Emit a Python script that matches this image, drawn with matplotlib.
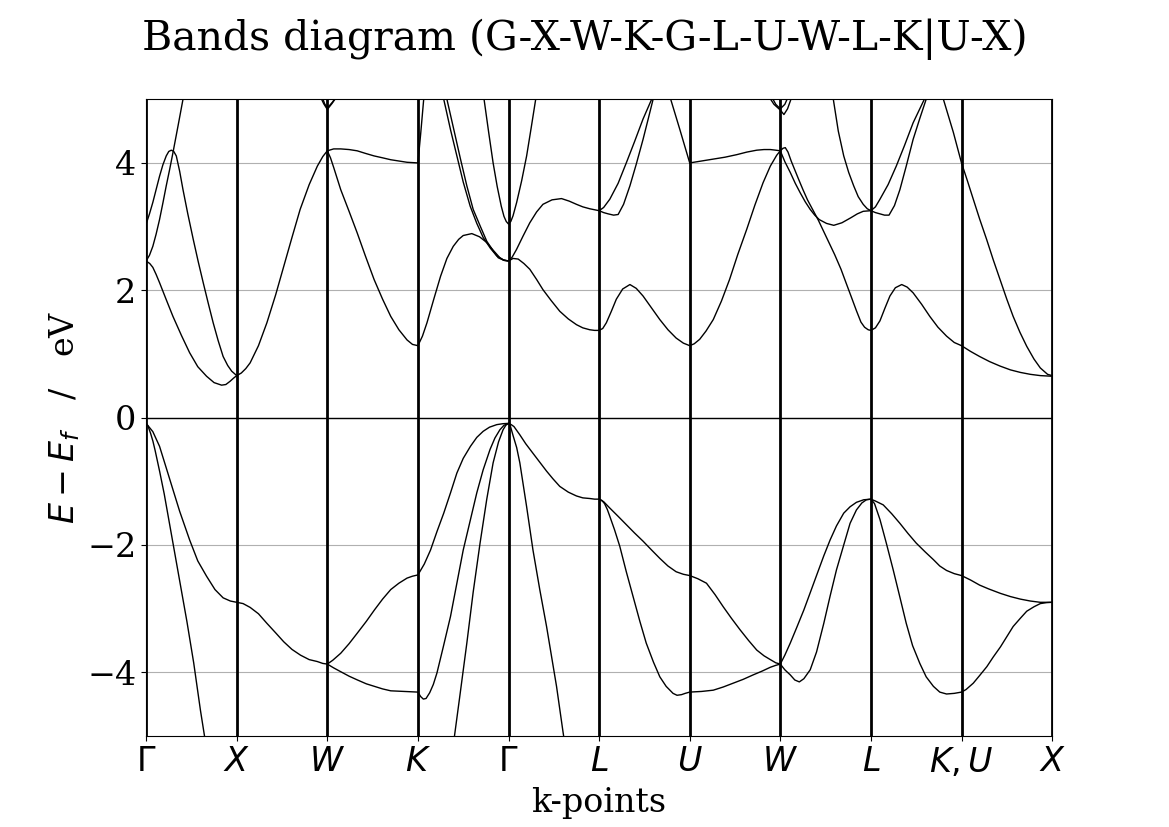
import matplotlib
matplotlib.use("Agg")
import matplotlib.pyplot as plt

plt.rcParams['font.family'] = ['DejaVu Serif']
plt.rcParams['mathtext.fontset'] = 'dejavusans'

# High-symmetry path
kpath_pos = [0, 1, 2, 3, 4, 5, 6, 7, 8, 9, 10]
kpath_labels = [r'$\Gamma$', r'$X$', r'$W$', r'$K$', r'$\Gamma$', r'$L$',
                r'$U$', r'$W$', r'$L$', r'$K,U$', r'$X$']
yticks = [-4, -2, 0, 2, 4]

# ---------------- valence bands (k, E in eV) ----------------
k_v1 = [0, 0.074, 0.148, 0.22, 0.296, 0.37, 0.48, 0.57, 0.667, 0.76, 0.85, 0.93, 1.0]
e_v1 = [-0.09, -0.22, -0.45, -0.78, -1.13, -1.47, -1.92, -2.25, -2.49, -2.70, -2.83, -2.88, -2.90]
k_v2 = [0, 0.02, 0.05, 0.075, 0.1, 0.15, 0.2, 0.25, 0.3, 0.375, 0.45, 0.525, 0.6, 0.7]
e_v2 = [-0.09, -0.13, -0.25, -0.37, -0.52, -0.85, -1.2, -1.6, -2.0, -2.6, -3.2, -3.85, -4.6, -5.5]
k_v3 = [1.0, 1.07, 1.148, 1.24, 1.333, 1.43, 1.519, 1.61, 1.704, 1.8, 1.889, 1.95, 2.0]
e_v3 = [-2.90, -2.92, -2.98, -3.08, -3.23, -3.38, -3.52, -3.64, -3.73, -3.80, -3.83, -3.86, -3.87]
k_v4 = [2, 2.06, 2.148, 2.24, 2.333, 2.43, 2.52, 2.61, 2.70, 2.79, 2.88, 2.94, 3.0]
e_v4 = [-3.87, -3.81, -3.70, -3.55, -3.38, -3.20, -3.02, -2.85, -2.70, -2.60, -2.52, -2.49, -2.47]
k_v5 = [2, 2.07, 2.148, 2.24, 2.333, 2.43, 2.52, 2.61, 2.70, 2.85, 3.0]
e_v5 = [-3.87, -3.93, -3.99, -4.06, -4.12, -4.18, -4.22, -4.26, -4.29, -4.30, -4.31]
k_v6 = [3, 3.07, 3.139, 3.21, 3.285, 3.36, 3.43, 3.5, 3.58, 3.65, 3.72, 3.79, 3.87, 3.94, 4.0]
e_v6 = [-2.47, -2.30, -2.08, -1.79, -1.50, -1.18, -0.87, -0.64, -0.45, -0.31, -0.215, -0.15, -0.11, -0.095, -0.09]
k_v7 = [3, 3.03, 3.06, 3.09, 3.13, 3.17, 3.21, 3.28, 3.36, 3.43, 3.50, 3.58, 3.65,
        3.72, 3.796, 3.85, 3.905, 3.95, 4.0]
e_v7 = [-4.31, -4.38, -4.42, -4.41, -4.32, -4.19, -4.01, -3.60, -3.12, -2.60, -2.08,
        -1.60, -1.18, -0.82, -0.50, -0.32, -0.19, -0.12, -0.09]
k_v8 = [3.38, 3.46, 3.54, 3.61, 3.686, 3.76, 3.83, 3.89, 3.94, 3.97, 4.0]
e_v8 = [-5.25, -4.40, -3.54, -2.74, -1.97, -1.28, -0.71, -0.38, -0.19, -0.12, -0.09]
k_v9 = [4, 4.03, 4.06, 4.125, 4.19, 4.27, 4.345, 4.42, 4.49, 4.566, 4.66, 4.75, 4.82, 4.897, 4.95, 5.0]
e_v9 = [-0.09, -0.11, -0.14, -0.27, -0.41, -0.56, -0.70, -0.84, -0.96, -1.08, -1.17, -1.23, -1.26, -1.27, -1.28, -1.28]
k_v10 = [4, 4.02, 4.05, 4.09, 4.125, 4.2, 4.27, 4.345, 4.42, 4.475, 4.53, 4.6, 4.65]
e_v10 = [-0.09, -0.13, -0.28, -0.47, -0.71, -1.4, -2.08, -2.70, -3.28, -3.75, -4.22, -4.92, -5.4]
k_v11 = [5, 5.05, 5.118, 5.21, 5.30, 5.39, 5.485, 5.58, 5.67, 5.76, 5.85, 5.93, 6.0]
e_v11 = [-1.28, -1.32, -1.42, -1.55, -1.68, -1.81, -1.94, -2.08, -2.21, -2.33, -2.42, -2.46, -2.48]
k_v12 = [5, 5.03, 5.06, 5.09, 5.118, 5.17, 5.228, 5.30, 5.375, 5.45, 5.52, 5.60, 5.67,
         5.74, 5.816, 5.86, 5.91, 5.95, 6.0]
e_v12 = [-1.28, -1.30, -1.35, -1.44, -1.55, -1.76, -2.02, -2.42, -2.81, -3.20, -3.54, -3.84, -4.07,
         -4.22, -4.33, -4.36, -4.35, -4.33, -4.31]
k_v13 = [6, 6.09, 6.185, 6.28, 6.37, 6.46, 6.555, 6.65, 6.74, 6.82, 6.89, 6.95, 7.0]
e_v13 = [-2.48, -2.53, -2.60, -2.78, -2.97, -3.15, -3.33, -3.50, -3.65, -3.74, -3.80, -3.85, -3.87]
k_v14 = [6, 6.13, 6.26, 6.37, 6.48, 6.59, 6.70, 6.80, 6.89, 6.95, 7.0]
e_v14 = [-4.31, -4.30, -4.28, -4.23, -4.17, -4.11, -4.04, -3.98, -3.92, -3.89, -3.87]
k_v15 = [7, 7.05, 7.11, 7.18, 7.26, 7.33, 7.41, 7.48, 7.55, 7.62, 7.70, 7.77, 7.84, 7.92, 8.0]
e_v15 = [-3.87, -3.73, -3.54, -3.30, -3.02, -2.75, -2.44, -2.17, -1.92, -1.70, -1.50, -1.40, -1.33, -1.29, -1.28]
k_v16 = [7, 7.05, 7.11, 7.16, 7.21, 7.26, 7.33, 7.40, 7.48, 7.55, 7.62, 7.70, 7.77, 7.84, 7.90, 7.95, 8.0]
e_v16 = [-3.87, -3.96, -4.04, -4.12, -4.15, -4.10, -3.96, -3.68, -3.23, -2.80, -2.39, -2.00, -1.66, -1.45, -1.34, -1.29, -1.28]
k_v17 = [8, 8.05, 8.136, 8.23, 8.32, 8.41, 8.50, 8.60, 8.69, 8.76, 8.835, 8.92, 9.0]
e_v17 = [-1.28, -1.31, -1.37, -1.51, -1.66, -1.82, -1.97, -2.11, -2.23, -2.33, -2.40, -2.45, -2.48]
k_v18 = [8, 8.04, 8.1, 8.17, 8.246, 8.32, 8.39, 8.46, 8.54, 8.61, 8.69, 8.76, 8.835, 8.92, 9.0]
e_v18 = [-1.28, -1.35, -1.60, -1.97, -2.39, -2.82, -3.23, -3.58, -3.86, -4.07, -4.22, -4.31, -4.34, -4.33, -4.31]
k_v19 = [9, 9.1, 9.2, 9.3, 9.43, 9.54, 9.65, 9.76, 9.87, 10]
e_v19 = [-2.48, -2.55, -2.63, -2.69, -2.76, -2.81, -2.85, -2.88, -2.90, -2.90]
k_v20 = [9, 9.05, 9.13, 9.2, 9.28, 9.35, 9.43, 9.5, 9.57, 9.65, 9.72, 9.80, 9.87, 9.94, 10]
e_v20 = [-4.31, -4.27, -4.17, -4.05, -3.91, -3.76, -3.60, -3.44, -3.28, -3.15, -3.04, -2.97, -2.92, -2.905, -2.90]

# ---------------- conduction bands (k, E in eV) ----------------
k_c1 = [0, 0.04, 0.074, 0.11, 0.148, 0.22, 0.296, 0.39, 0.48, 0.57, 0.667, 0.75, 0.833, 0.88, 0.926, 0.965, 1.0]
e_c1 = [2.46, 2.42, 2.36, 2.25, 2.12, 1.86, 1.59, 1.29, 1.02, 0.80, 0.65, 0.55, 0.51, 0.52, 0.57, 0.62, 0.66]
k_c2 = [0, 0.037, 0.074, 0.11, 0.148, 0.185, 0.222, 0.25, 0.278, 0.305, 0.333, 0.37, 0.407,
        0.46, 0.52, 0.575, 0.63, 0.685, 0.74, 0.795, 0.85, 0.9, 0.944, 1.0]
e_c2 = [3.04, 3.20, 3.38, 3.58, 3.79, 3.97, 4.11, 4.18, 4.20, 4.18, 4.11, 3.87, 3.58,
        3.20, 2.80, 2.45, 2.12, 1.80, 1.49, 1.21, 0.96, 0.82, 0.73, 0.66]
k_c3 = [0, 0.037, 0.074, 0.11, 0.148, 0.185, 0.222, 0.26, 0.296, 0.352, 0.407, 0.44]
e_c3 = [2.46, 2.55, 2.69, 2.88, 3.11, 3.37, 3.64, 3.90, 4.16, 4.58, 5.0, 5.25]
k_c4 = [1.0, 1.05, 1.1, 1.148, 1.24, 1.333, 1.43, 1.52, 1.61, 1.70, 1.80, 1.89, 1.95, 2.0]
e_c4 = [0.66, 0.70, 0.77, 0.86, 1.13, 1.49, 1.93, 2.38, 2.83, 3.27, 3.66, 3.95, 4.10, 4.19]
k_c5 = [1.92, 1.96, 2.0, 2.05, 2.11]
e_c5 = [5.05, 4.93, 4.84, 4.93, 5.05]
k_c5b = [1.94, 1.97, 2.0, 2.06, 2.10]
e_c5b = [5.05, 4.93, 4.86, 4.96, 5.05]
k_c6 = [2, 2.07, 2.148, 2.24, 2.33, 2.42, 2.516, 2.61, 2.70, 2.79, 2.88, 3.0]
e_c6 = [4.19, 4.22, 4.22, 4.21, 4.19, 4.15, 4.11, 4.08, 4.05, 4.03, 4.01, 4.0]
k_c7 = [2.0, 2.035, 2.07, 2.148, 2.24, 2.33, 2.42, 2.516, 2.61, 2.70, 2.79, 2.88, 2.94, 3.0]
e_c7 = [4.19, 4.08, 3.93, 3.58, 3.24, 2.90, 2.54, 2.17, 1.86, 1.59, 1.38, 1.22, 1.15, 1.13]
k_c8 = [3.0, 3.05, 3.10, 3.175, 3.25, 3.32, 3.39, 3.45, 3.5, 3.595, 3.68, 3.76, 3.83, 3.905, 3.95, 4.0]
e_c8 = [1.13, 1.28, 1.49, 1.86, 2.22, 2.50, 2.69, 2.80, 2.86, 2.89, 2.84, 2.75, 2.63, 2.51, 2.47, 2.46]
k_c9 = [3, 3.03, 3.07]
e_c9 = [4.0, 4.45, 5.1]
k_c10 = [3.26, 3.285, 3.36, 3.43, 3.50, 3.577, 3.65, 3.72, 3.80, 3.87, 3.94, 4.0]
e_c10 = [5.15, 5.0, 4.52, 4.11, 3.70, 3.32, 3.05, 2.83, 2.66, 2.54, 2.48, 2.46]
k_c11 = [3.30, 3.32, 3.40, 3.47, 3.54, 3.61, 3.69, 3.76, 3.83, 3.887, 3.95, 4.0]
e_c11 = [5.15, 5.0, 4.50, 4.06, 3.64, 3.27, 3.00, 2.77, 2.62, 2.51, 2.47, 2.46]
k_c12 = [3.72, 3.73, 3.78, 3.83, 3.875, 3.92, 3.95, 3.975, 4.0, 4.025, 4.05, 4.09, 4.145, 4.2, 4.25, 4.30, 4.31]
e_c12 = [5.1, 5.0, 4.49, 4.0, 3.63, 3.32, 3.16, 3.08, 3.04, 3.08, 3.17, 3.38, 3.72, 4.11, 4.55, 5.0, 5.1]
k_c13 = [4.0, 4.04, 4.088, 4.16, 4.235, 4.31, 4.38, 4.48, 4.585, 4.67, 4.75, 4.82, 4.897, 5.0]
e_c13 = [2.46, 2.52, 2.64, 2.85, 3.06, 3.23, 3.35, 3.42, 3.44, 3.40, 3.35, 3.31, 3.28, 3.25]
k_c14 = [4.0, 4.05, 4.107, 4.17, 4.235, 4.31, 4.38, 4.47, 4.566, 4.66, 4.75, 4.82, 4.897, 4.95, 5.0]
e_c14 = [2.46, 2.50, 2.49, 2.42, 2.33, 2.17, 2.01, 1.84, 1.67, 1.55, 1.46, 1.41, 1.38, 1.37, 1.37]
k_c15 = [5.0, 5.04, 5.08, 5.135, 5.19, 5.26, 5.34, 5.41, 5.485, 5.58, 5.67, 5.76, 5.85, 5.93, 6.0]
e_c15 = [1.37, 1.40, 1.49, 1.67, 1.86, 2.02, 2.09, 2.03, 1.91, 1.72, 1.54, 1.38, 1.25, 1.17, 1.13]
k_c16 = [5.0, 5.05, 5.118, 5.21, 5.30, 5.39, 5.485, 5.58, 5.62]
e_c16 = [3.25, 3.30, 3.43, 3.68, 4.0, 4.33, 4.69, 5.0, 5.15]
k_c17 = [5.0, 5.05, 5.1, 5.16, 5.21, 5.27, 5.34, 5.41, 5.485, 5.54, 5.596, 5.63]
e_c17 = [3.25, 3.22, 3.20, 3.18, 3.19, 3.35, 3.64, 3.98, 4.37, 4.68, 5.0, 5.15]
k_c18 = [5.77, 5.79, 5.89, 6.0]
e_c18 = [5.1, 5.0, 4.53, 4.0]
k_c19 = [6, 6.13, 6.26, 6.39, 6.52, 6.63, 6.74, 6.82, 6.89, 6.95, 7.0]
e_c19 = [4.0, 4.03, 4.06, 4.09, 4.13, 4.17, 4.20, 4.21, 4.21, 4.20, 4.19]
k_c20 = [6.0, 6.05, 6.11, 6.18, 6.26, 6.35, 6.44, 6.53, 6.63, 6.72, 6.81, 6.89, 6.96, 7.0]
e_c20 = [1.13, 1.16, 1.23, 1.36, 1.54, 1.83, 2.17, 2.56, 2.96, 3.34, 3.69, 3.95, 4.12, 4.19]
k_c21 = [6.87, 6.93, 7.0, 7.04, 7.08, 7.13]
e_c21 = [5.05, 4.92, 4.83, 4.76, 4.85, 5.05]
k_c21b = [6.9, 6.95, 7.0, 7.05, 7.09]
e_c21b = [5.05, 4.92, 4.85, 4.92, 5.05]
k_c22 = [7.0, 7.03, 7.055, 7.085, 7.12, 7.16, 7.2, 7.25, 7.3, 7.36, 7.42, 7.47, 7.52,
         7.6, 7.67, 7.73, 7.78, 7.84, 7.89, 7.93, 7.97, 8.0]
e_c22 = [4.19, 4.23, 4.24, 4.17, 4.03, 3.89, 3.75, 3.58, 3.42, 3.26, 3.10, 2.95, 2.80,
         2.56, 2.33, 2.10, 1.91, 1.68, 1.50, 1.42, 1.38, 1.37]
k_c23 = [7.0, 7.05, 7.11, 7.165, 7.22, 7.275, 7.33, 7.38, 7.43, 7.51, 7.59, 7.68, 7.78, 7.85, 7.915, 8.0]
e_c23 = [4.19, 4.02, 3.85, 3.68, 3.53, 3.39, 3.27, 3.18, 3.11, 3.05, 3.02, 3.06, 3.14, 3.20, 3.24, 3.25]
k_c24 = [7.565, 7.585, 7.64, 7.70, 7.755, 7.81, 7.86, 7.915, 7.96, 8.0]
e_c24 = [5.15, 5.0, 4.50, 4.11, 3.85, 3.64, 3.47, 3.35, 3.28, 3.25]
k_c25 = [8.0, 8.05, 8.1, 8.19, 8.28, 8.37, 8.466, 8.59, 8.63]
e_c25 = [3.25, 3.31, 3.43, 3.66, 3.95, 4.27, 4.63, 5.0, 5.15]
k_c26 = [8.0, 8.05, 8.1, 8.15, 8.2, 8.26, 8.32, 8.39, 8.466, 8.54, 8.61, 8.65]
e_c26 = [3.25, 3.22, 3.20, 3.18, 3.18, 3.33, 3.58, 3.95, 4.37, 4.70, 5.0, 5.15]
k_c27 = [8.0, 8.05, 8.1, 8.155, 8.21, 8.27, 8.34, 8.40, 8.466, 8.56, 8.65, 8.74, 8.835, 8.92, 9.0]
e_c27 = [1.37, 1.41, 1.52, 1.72, 1.91, 2.04, 2.09, 2.05, 1.96, 1.78, 1.59, 1.42, 1.28, 1.18, 1.13]
k_c28 = [8.78, 8.80, 8.91, 9.0]
e_c28 = [5.1, 5.0, 4.48, 4.0]
k_c29 = [9.0, 9.065, 9.13, 9.2, 9.277, 9.35, 9.425, 9.5, 9.57, 9.645, 9.72, 9.8, 9.87, 9.95, 10]
e_c29 = [4.0, 3.72, 3.43, 3.12, 2.80, 2.48, 2.17, 1.86, 1.59, 1.34, 1.12, 0.92, 0.78, 0.68, 0.66]
k_c30 = [9.0, 9.1, 9.2, 9.31, 9.425, 9.54, 9.65, 9.76, 9.87, 10]
e_c30 = [1.13, 1.04, 0.96, 0.88, 0.81, 0.75, 0.71, 0.68, 0.66, 0.65]

bands = [
    (k_v1, e_v1), (k_v2, e_v2), (k_v3, e_v3), (k_v4, e_v4), (k_v5, e_v5),
    (k_v6, e_v6), (k_v7, e_v7), (k_v8, e_v8), (k_v9, e_v9), (k_v10, e_v10),
    (k_v11, e_v11), (k_v12, e_v12), (k_v13, e_v13), (k_v14, e_v14),
    (k_v15, e_v15), (k_v16, e_v16), (k_v17, e_v17), (k_v18, e_v18),
    (k_v19, e_v19), (k_v20, e_v20),
    (k_c1, e_c1), (k_c2, e_c2), (k_c3, e_c3), (k_c4, e_c4), (k_c5, e_c5),
    (k_c5b, e_c5b), (k_c6, e_c6), (k_c7, e_c7), (k_c8, e_c8), (k_c9, e_c9),
    (k_c10, e_c10), (k_c11, e_c11), (k_c12, e_c12), (k_c13, e_c13),
    (k_c14, e_c14), (k_c15, e_c15), (k_c16, e_c16), (k_c17, e_c17),
    (k_c18, e_c18), (k_c19, e_c19), (k_c20, e_c20), (k_c21, e_c21),
    (k_c21b, e_c21b), (k_c22, e_c22), (k_c23, e_c23), (k_c24, e_c24),
    (k_c25, e_c25), (k_c26, e_c26), (k_c27, e_c27), (k_c28, e_c28),
    (k_c29, e_c29), (k_c30, e_c30),
]

fig, ax = plt.subplots(figsize=(11.69, 8.27), dpi=100)
fig.subplots_adjust(left=0.125, right=0.9, bottom=0.11, top=0.88)

ax.yaxis.grid(True, color='#b0b0b0', lw=0.8)
ax.set_axisbelow(True)

for k, e in bands:
    ax.plot(k, e, color='k', lw=1.0, solid_joinstyle='round', solid_capstyle='round')

for x in kpath_pos:
    ax.axvline(x, color='k', lw=2.0)
ax.axhline(0, color='k', lw=1.0)

ax.set_xlim(kpath_pos[0], kpath_pos[-1])
ax.set_ylim(-5, 5)
ax.set_xticks(kpath_pos)
ax.set_xticklabels(kpath_labels)
ax.set_yticks(yticks)
ax.tick_params(labelsize=24)

ax.set_xlabel('k-points', fontsize=24, labelpad=6)
ax.set_ylabel(r'$E - E_f$   /   eV', fontsize=24)
fig.suptitle('Bands diagram (G-X-W-K-G-L-U-W-L-K|U-X)', fontsize=29.5, y=0.978)

fig.savefig('out.png', dpi=100)
